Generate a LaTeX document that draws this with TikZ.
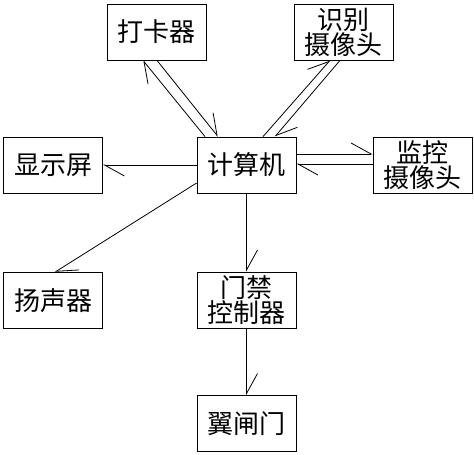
\documentclass[tikz,border=0pt]{standalone}
\usepackage{fontspec}
\newfontfamily\cjk{Noto Sans CJK SC}
\usetikzlibrary{arrows.meta}
\tikzset{box/.style={draw, line width=0.8pt, minimum width=99pt, minimum height=56pt, inner sep=0pt, align=center, font=\cjk\fontsize{26}{25}\selectfont}}

\begin{document}
\begin{tikzpicture}[x=1pt, y=-1pt, >={Straight Barb[left, length=20pt, width=22pt]}, line width=0.8pt]
  \useasboundingbox (0,0) rectangle (474,455);
  \node[box] (dkq)  at (156.5,32)  {打卡器};
  \node[box] (sbsx) at (343.5,32)  {识别\\摄像头};
  \node[box] (xsp)  at (53,165)    {显示屏};
  \node[box] (jsj)  at (246.5,165) {计算机};
  \node[box] (jksx) at (422.5,165) {监控\\摄像头};
  \node[box] (ysq)  at (53,300.5)  {扬声器};
  \node[box] (mjkz) at (246.5,300) {门禁\\控制器};
  \node[box] (yzm)  at (246.5,423.5) {翼闸门};

  \draw [->] ([xshift=-41.5pt]jsj.north) -- ([xshift=-13.5pt]dkq.south);
  \draw [->] ([xshift=0.5pt]dkq.south) -- ([xshift=-28.5pt]jsj.north);
  \draw [->] ([xshift=16.5pt]jsj.north) -- ([xshift=-13.5pt]sbsx.south);
  \draw [->] ([xshift=-3.5pt]sbsx.south) -- ([xshift=28.5pt]jsj.north);
  \draw [->] (jsj.west) -- (xsp.east);
  \draw [->] ([yshift=11pt]jsj.east) -- ([yshift=11pt]jksx.west);
  \draw [->] ([yshift=1pt]jksx.west) -- ([yshift=1pt]jsj.east);
  \draw [->] ([yshift=-18pt]jsj.west) -- ([xshift=2pt]ysq.north);
  \draw [->] (jsj.south) -- (mjkz.north);
  \draw [->] (mjkz.south) -- (yzm.north);
\end{tikzpicture}
\end{document}
